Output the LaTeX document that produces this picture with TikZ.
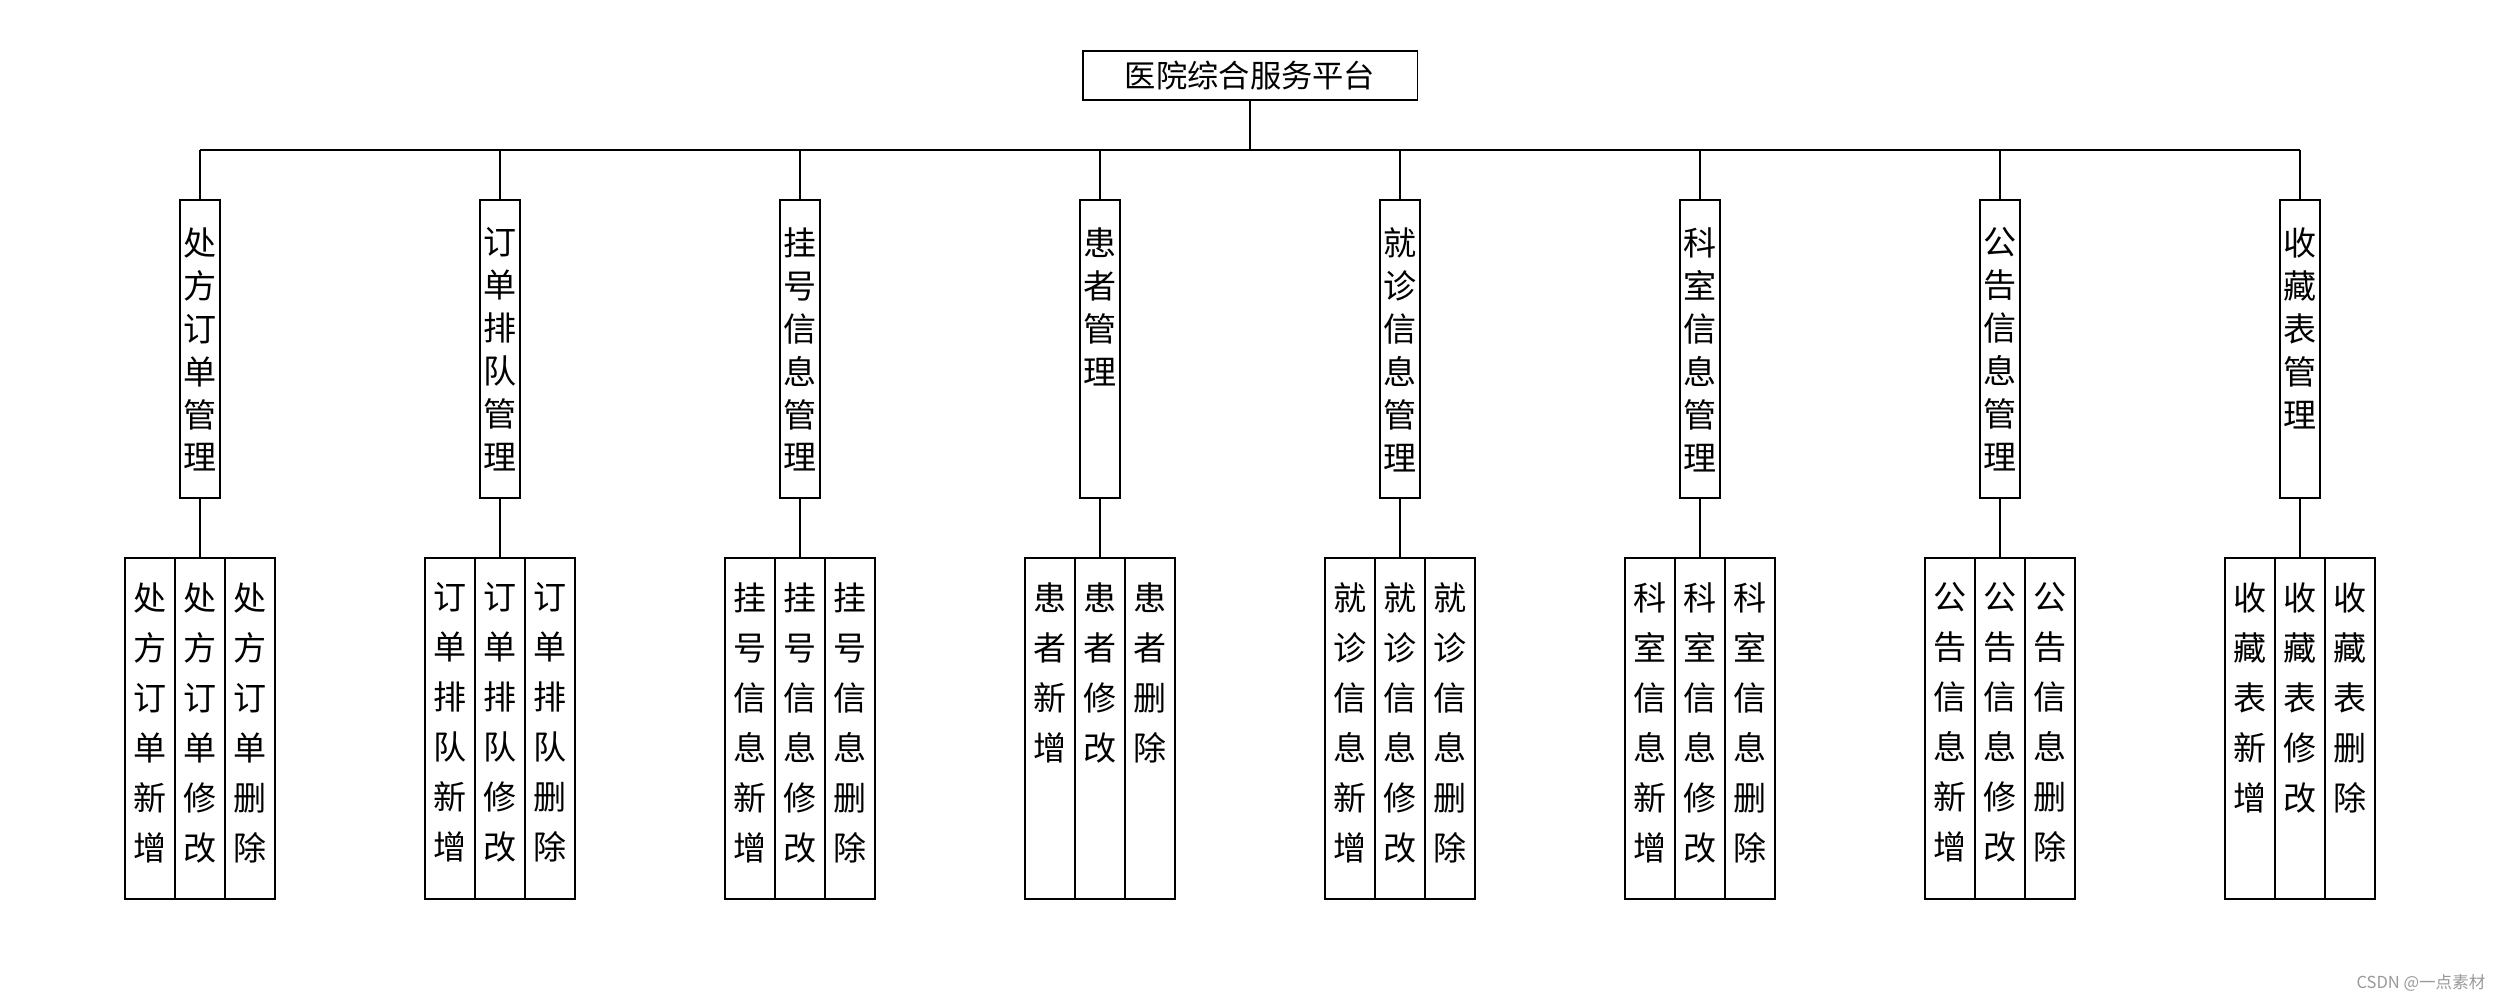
\documentclass[tikz,border=0pt]{standalone}
\usepackage{fontspec}
\setmainfont{Noto Sans CJK SC}
\begin{document}
\begin{tikzpicture}[x=0.01cm,y=-0.01cm,
  conn/.style={draw=black, line width=0.35pt},
  bar/.style={draw=black, line width=0.55pt},
  topbox/.style={draw=black, line width=0.35pt, minimum width=3.34cm, minimum height=0.49cm, inner sep=0pt, font=\fontsize{8.9pt}{10pt}\selectfont},
  midbox/.style={draw=black, line width=0.35pt, minimum width=0.4cm, minimum height=2.98cm, inner sep=0pt},
  leafbox/.style={draw=black, line width=0.35pt, minimum width=0.5cm, minimum height=3.41cm, inner sep=0pt},
  midtext/.style={anchor=north, inner sep=0pt, align=center, font=\fontsize{9.4pt}{12.2pt}\selectfont},
  leaftext/.style={anchor=north, inner sep=0pt, align=center, font=\fontsize{9.4pt}{14.2pt}\selectfont}]
\useasboundingbox (0,0) rectangle (2500,1000);
\node[topbox] (top) at (1250,75.5) {医院综合服务平台};
\foreach \i/\m/\p [evaluate=\i as \cx using {200+300*(\i-1)}] in {
  1/处\\方\\订\\单\\管\\理/处\\方\\订\\单,
  2/订\\单\\排\\队\\管\\理/订\\单\\排\\队,
  3/挂\\号\\信\\息\\管\\理/挂\\号\\信\\息,
  4/患\\者\\管\\理/患\\者,
  5/就\\诊\\信\\息\\管\\理/就\\诊\\信\\息,
  6/科\\室\\信\\息\\管\\理/科\\室\\信\\息,
  7/公\\告\\信\\息\\管\\理/公\\告\\信\\息,
  8/收\\藏\\表\\管\\理/收\\藏\\表}{
  \coordinate (j\i) at (\cx,150);
  \node[midbox] (m\i) at (\cx,349) {};
  \node[midtext] (mt\i) at (\cx,227) {\m};
  \node[leafbox] (a\i) at (\cx-50,728.5) {};
  \node[leafbox] (b\i) at (\cx,728.5) {};
  \node[leafbox] (c\i) at (\cx+50,728.5) {};
  \node[leaftext] (at\i) at (\cx-50,582) {\p\\新\\增};
  \node[leaftext] (bt\i) at (\cx,582) {\p\\修\\改};
  \node[leaftext] (ct\i) at (\cx+50,582) {\p\\删\\除};
  \draw[conn] (j\i) -- (m\i.north);
  \draw[conn] (m\i.south) -- (b\i.north);
}
\draw[bar] (j1) -- (j8);
\draw[conn] (top.south) -- (top.south |- j1);
\node[anchor=east, inner sep=0pt, text=black!40, font=\fontsize{4.7pt}{5pt}\selectfont] (wm) at (2486,983) {CSDN @一点素材};
\end{tikzpicture}
\end{document}
